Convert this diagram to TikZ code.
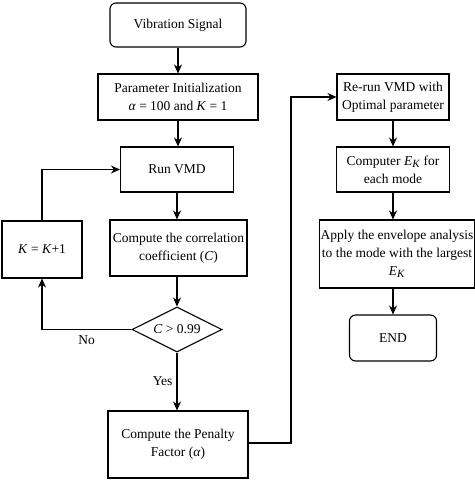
\documentclass[tikz,border=0pt]{standalone}
\usepackage{fontspec}
\setmainfont{Liberation Serif}
\usetikzlibrary{arrows.meta,shapes.geometric}
\begin{document}
\begin{tikzpicture}[x=1pt,y=-1pt,
  box/.style={draw, line width=1.1pt, align=center, inner sep=1pt, font=\fontsize{13.5}{18}\selectfont},
  rbox/.style={box, rounded corners=6pt},
  dec/.style={draw, line width=1.1pt, diamond, aspect=2, inner sep=1pt, minimum width=90pt, minimum height=45pt, font=\fontsize{13.5}{18}\selectfont},
  arr/.style={line width=1.1pt, -{Stealth[length=9pt,width=8pt]}},
  lbl/.style={font=\fontsize{13.5}{18}\selectfont, inner sep=0pt}]
\useasboundingbox (0,0) rectangle (474,481);
\node[rbox, minimum width=136pt, minimum height=44pt] (vib) at (178,25) {Vibration Signal};
\node[box, minimum width=160pt, minimum height=46pt] (par) at (178,97) {Parameter Initialization\\\textit{α} = 100 and \textit{K} = 1};
\node[box, minimum width=113pt, minimum height=45pt] (run) at (177,169.5) {Run VMD};
\node[box, minimum width=137pt, minimum height=56pt] (cor) at (178.5,248) {Compute the correlation\\coefficient (\textit{C})};
\node[box, minimum width=80pt, minimum height=57pt] (kk) at (42,249.5) {\textit{K} = \textit{K}+1};
\node[dec] (dia) at (177,329.5) {\textit{C} > 0.99};
\node[box, minimum width=140pt, minimum height=67pt] (pen) at (178,444.5) {Compute the Penalty\\Factor (\textit{α})};
\node[box, minimum width=112pt, minimum height=46pt] (rer) at (393,97) {Re-run VMD with\\Optimal parameter};
\node[box, minimum width=113pt, minimum height=45pt] (cek) at (393,169.5) {Computer \textit{E}\raisebox{-0.35ex}{\fontsize{11}{11}\selectfont\textit{K}} for\\each mode};
\node[box, minimum width=150pt, minimum height=68pt] (app) at (397,254) {Apply the envelope analysis\\to the mode with the largest\\\textit{E}\raisebox{-0.35ex}{\fontsize{11}{11}\selectfont\textit{K}}};
\node[rbox, minimum width=87pt, minimum height=46pt] (endn) at (393,338) {END};
\coordinate (bend) at (291,443);
\draw[arr] (vib.south) -- (vib.south |- par.north);
\draw[arr] (par.south) -- (par.south |- run.north);
\draw[arr] (run.south) -- (run.south |- cor.north);
\draw[arr] (cor.south -| dia.north) -- (dia.north);
\draw[arr] (dia.south) -- (dia.south |- pen.north) node[lbl, pos=0.5, left=4pt] {Yes};
\draw[arr] (dia.west) -| (kk.south) node[lbl, pos=0.25, below=6pt] {No};
\draw[arr] (kk.north) |- (run.west);
\draw[arr] (pen.east |- bend) -- (bend) |- (rer.west);
\draw[arr] (rer.south) -- (rer.south |- cek.north);
\draw[arr] (cek.south) -- (cek.south |- app.north);
\draw[arr] (cek.south |- app.south) -- (cek.south |- endn.north);
\end{tikzpicture}
\end{document}
